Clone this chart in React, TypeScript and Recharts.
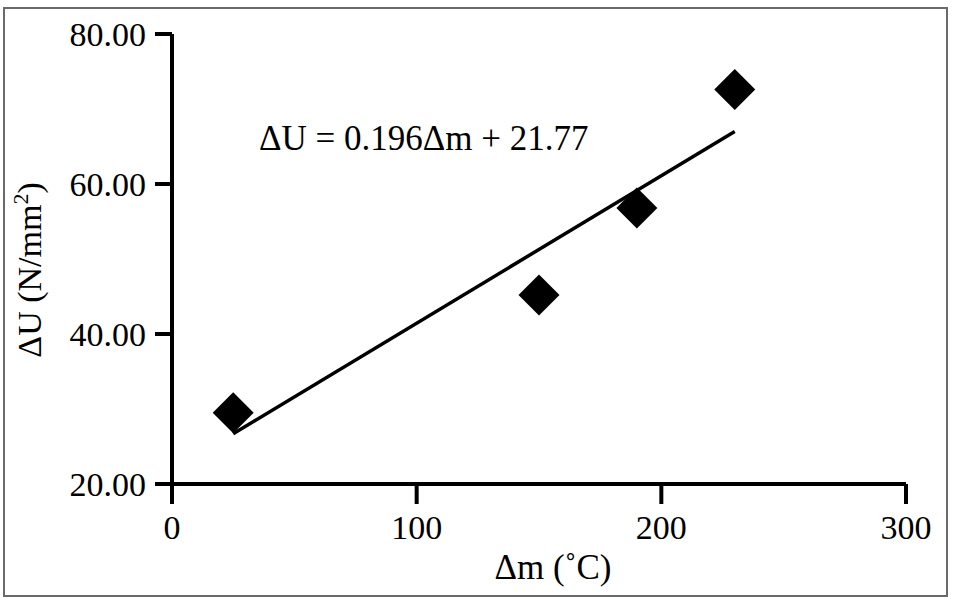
import React from "react"
import {
  ComposedChart,
  Scatter,
  Line,
  XAxis,
  YAxis,
  Label,
} from "recharts"

// measured points: melting-point shift vs. strength change
const deltaM = [25, 150, 190, 230]
const deltaU = [29.5, 45.2, 56.8, 72.6]

// fitted line ends
const fitX = [25, 230]
const fitY = [26.7, 67.0]

const xTicks = [0, 100, 200, 300]
const yTicks = [20, 40, 60, 80]

const points = deltaM.map((x, i) => ({ x, y: deltaU[i] }))
const fit = fitX.map((x, i) => ({ x, y: fitY[i] }))

const FONT = "'Liberation Serif', 'Times New Roman', serif"
const axisStyle = { stroke: "#000", strokeWidth: 4 }

function Diamond(props: any) {
  const { cx, cy } = props
  const r = 20.5
  return (
    <polygon
      points={`${cx},${cy - r} ${cx + r},${cy} ${cx},${cy + r} ${cx - r},${cy}`}
      fill="#000"
    />
  )
}

function YTitle() {
  return (
    <text
      x={0}
      y={0}
      transform="translate(41, 270) rotate(-90)"
      textAnchor="middle"
      fontFamily={FONT}
      fontSize={34}
      fill="#000"
    >
      ΔU (N/mm
      <tspan dy={-13} fontSize={22}>2</tspan>
      <tspan dy={13}>)</tspan>
    </text>
  )
}

function XTitle() {
  return (
    <text
      x={553}
      y={579}
      textAnchor="middle"
      fontFamily={FONT}
      fontSize={35}
      fill="#000"
    >
      Δm (˚C)
    </text>
  )
}

export default function App() {
  return (
    <div style={{ position: "absolute", left: 0, top: 0, width: 953, height: 612, background: "#fff" }}>
      <div
        style={{
          position: "absolute",
          left: 3,
          top: 7,
          width: 945,
          height: 590,
          border: "2px solid #6a6a6a",
          boxSizing: "border-box",
        }}
      />

      <ComposedChart
        width={953}
        height={612}
        margin={{ top: 34, right: 47, bottom: 68, left: 0 }}
        style={{ position: "absolute", left: 0, top: 0 }}
      >
        <XAxis
          type="number"
          dataKey="x"
          domain={[0, 300]}
          ticks={xTicks}
          interval={0}
          height={60}
          tickSize={20}
          tickMargin={11}
          axisLine={axisStyle}
          tickLine={axisStyle}
          tick={{ fill: "#000", fontSize: 34, fontFamily: FONT }}
        >
          <Label content={<XTitle />} />
        </XAxis>

        <YAxis
          type="number"
          dataKey="y"
          domain={[20, 80]}
          ticks={yTicks}
          interval={0}
          width={172}
          tickSize={17}
          tickMargin={9}
          axisLine={axisStyle}
          tickLine={axisStyle}
          tickFormatter={(v: number) => v.toFixed(2)}
          tick={{ fill: "#000", fontSize: 34, fontFamily: FONT }}
        >
          <Label content={<YTitle />} />
        </YAxis>

        <Line
          data={fit}
          dataKey="y"
          type="linear"
          stroke="#000"
          strokeWidth={3.5}
          dot={false}
          activeDot={false}
          isAnimationActive={false}
        />

        <Scatter
          data={points}
          dataKey="y"
          shape={Diamond}
          isAnimationActive={false}
        />
      </ComposedChart>

      <svg
        width={953}
        height={612}
        style={{ position: "absolute", left: 0, top: 0, pointerEvents: "none" }}
      >
        <text x={259} y={150} fontFamily={FONT} fontSize={35} fill="#000">
          ΔU = 0.196Δm + 21.77
        </text>
      </svg>
    </div>
  )
}
